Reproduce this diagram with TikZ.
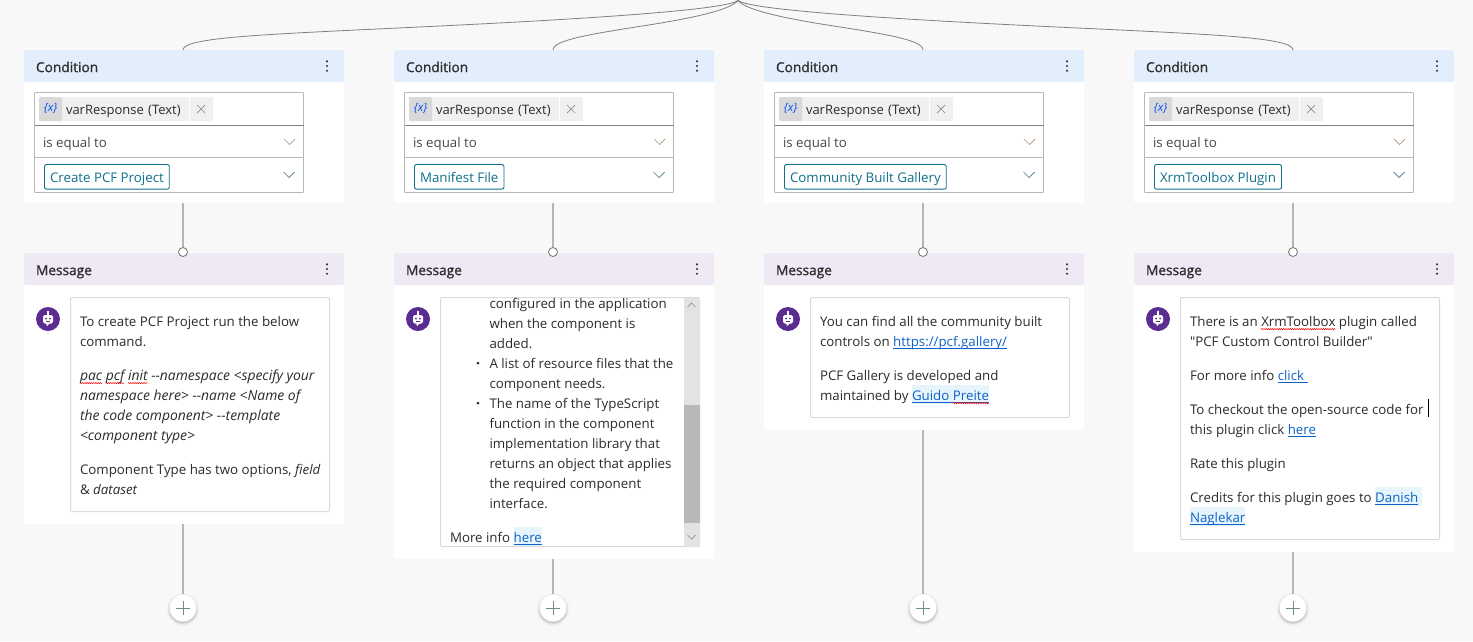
\documentclass[tikz,border=0pt]{standalone}
\usepackage{fontspec}
\setmainfont{Open Sans}
\newfontfamily\semib[FakeBold=1.1]{Open Sans}
\newfontfamily\rawf{Open Sans}
\usetikzlibrary{decorations.pathmorphing}
\definecolor{pagebg}{HTML}{F8F8F8}
\definecolor{condhd}{HTML}{E3EEFC}
\definecolor{msghd}{HTML}{EFE9F5}
\definecolor{txt}{HTML}{2B2B2B}
\definecolor{teal}{HTML}{0F6F8C}
\definecolor{linkc}{HTML}{0F62C9}
\definecolor{hlc}{HTML}{E6F4FC}
\definecolor{wire}{HTML}{B5B5B5}
\definecolor{botc}{HTML}{5C2D91}
\definecolor{bord}{HTML}{DADADA}
\definecolor{fbord}{HTML}{B8B8B8}
\definecolor{plusc}{HTML}{6F8F80}
\newcounter{tln}
\newbox\lbx
\newdimen\sqwd
\newcommand\lnk[1]{\leavevmode\begingroup\setbox\lbx\hbox{\color{linkc}#1}\rlap{\color{linkc}\rule[-2.2pt]{\wd\lbx}{.8pt}}\box\lbx\endgroup}
\newcommand\hlt[1]{\leavevmode\begingroup\setbox\lbx\hbox{#1}\rlap{\color{hlc}\rule[-3.5pt]{\wd\lbx}{18.5pt}}\box\lbx\endgroup}
\newcommand\sq[1]{\leavevmode\begingroup\setbox\lbx\hbox{#1}\sqwd=\wd\lbx\rlap{\tikz[overlay,x=1pt,y=1pt,baseline=0pt]\draw[red,line width=.45pt,decorate,decoration={zigzag,segment length=2.2pt,amplitude=.7pt}] (0,-3pt) -- (\sqwd,-3pt);}\box\lbx\endgroup}
\newcommand\itl{\fontsize{13.9}{15}\selectfont\itshape}
\tikzset{
  card/.style={rectangle,fill=white,rounded corners=1.5pt,inner sep=0,outer sep=0,anchor=north west,minimum width=320pt},
  head/.style={card,minimum height=32pt},
  formbox/.style={rectangle,draw=fbord,line width=.9pt,inner sep=0,outer sep=0,anchor=north west,minimum width=269pt,rounded corners=.8pt},
  msgbox/.style={rectangle,draw=bord,fill=white,line width=1pt,inner sep=0,outer sep=0,anchor=north west,minimum width=259pt,rounded corners=1pt},
  tx/.style={inner sep=0,outer sep=0,anchor=base west,text=txt,font=\fontsize{13.3}{15}\selectfont},
  title/.style={tx,text=black!82,font=\fontsize{13.7}{15}\selectfont\semib},
  wireln/.style={draw=wire,line width=1.7pt},
  fork/.style={draw=black!50,line width=.8pt},
  port/.style={circle,draw=black!55,fill=white,line width=.8pt,minimum size=9pt,inner sep=0},
  plusbtn/.style={circle,fill=white,minimum size=27pt,inner sep=0},
  chevron/.style={draw=black!40!brown!60,line width=.7pt},
  kdot/.style={circle,fill=black!80,minimum size=2.4pt,inner sep=0},
}
% one line of text: x, centre y, options, text
\newcommand\tl[4][]{\stepcounter{tln}\node[tx,#1] (t\arabic{tln}) at (#2,#3+5.1) {#4};}
\newcommand\kebab[2]{\foreach \dy in {-4.7,0,4.7}{\node[kdot] at (#1,#2+\dy) {};}}
\newcommand\condcard[3]{% n, x, value
  \def\cx{#2}
  \node[card,minimum height=153pt] (cond#1) at (\cx,50) {};
  \node[head,fill=condhd] (condh#1) at (\cx,50) {};
  \tl[title]{\cx+12}{67}{Condition}
  \kebab{\cx+303}{66}
  \node[formbox,minimum height=100pt] (form#1) at (\cx+10.5,92.5) {};
  \draw[black!50,line width=.9pt] (\cx+10.5,125.5) -- (\cx+279.5,125.5);
  \draw[fbord,line width=.9pt] (\cx+10.5,157.5) -- (\cx+279.5,157.5);
  \fill[black!6,rounded corners=1pt] (\cx+15,97) rectangle (\cx+189,121);
  \fill[black!15,rounded corners=1pt] (\cx+15,97) -- (\cx+38,97) -- (\cx+38,121) -- (\cx+15,121) -- cycle;
  \draw[white,line width=.7pt] (\cx+165,97) -- (\cx+165,121);
  \node[inner sep=0,text=blue!70!cyan,font=\fontsize{11.5}{13}\selectfont\itshape] (xi#1) at (\cx+26.7,108.5) {\{x\}};
  \tl[font=\fontsize{13}{15}\selectfont]{\cx+42}{109}{varResponse\hspace{1pt} (Text)}
  \draw[black!45,line width=.7pt] (\cx+173,105) -- (\cx+181,113) (\cx+181,105) -- (\cx+173,113);
  \tl[text=black!72]{\cx+19}{142}{is equal to}
  \draw[chevron] (\cx+260,139) -- (\cx+265.5,144.5) -- (\cx+271,139);
  \stepcounter{tln}
  \node[tx,anchor=base west,draw=teal,line width=.9pt,rounded corners=2pt,text=teal,inner xsep=5.5pt,inner ysep=0pt,text height=17.5pt,text depth=7.1pt,outer sep=0] (val#1) at (\cx+20.5,182) {#3};
  \draw[draw=teal!55!gray,line width=.7pt] (\cx+259.5,172) -- (\cx+265,177.5) -- (\cx+270.5,172);
}
\newcommand\msgcard[3]{% n, x, bottom
  \def\cx{#2}
  \pgfmathsetmacro\cardh{#3-253}
  \node[card,minimum height=\cardh pt] (msg#1) at (\cx,253) {};
  \node[head,fill=msghd] (msgh#1) at (\cx,253) {};
  \tl[title]{\cx+12}{270}{Message}
  \kebab{\cx+303}{269}
  \node[circle,fill=botc,minimum size=24pt,inner sep=0] (bot#1) at (\cx+24,319) {};
  \fill[white,rounded corners=1.6pt] (\cx+19,315) rectangle (\cx+29,323.5);
  \fill[white] (\cx+22,323) -- (\cx+26,323) -- (\cx+23,326) -- cycle;
  \fill[white] (\cx+23.4,311.5) rectangle (\cx+24.6,315);
  \fill[white] (\cx+24,311.5) circle (1pt);
  \fill[botc] (\cx+22,318.5) circle (1pt) (\cx+26,318.5) circle (1pt);
  \draw[botc,line width=.5pt] (\cx+22,321) -- (\cx+26,321);
}
\newcommand\wires[2]{% n, x of the wire
  \coordinate (in#1) at (#2,50);
  \foreach \rr/\sh in {16.5/2,15.5/5,14.5/11,13.8/18}{\fill[black!\sh!pagebg] (#2,609.5) circle (\rr pt);}
  \node[port] (port#1) at (#2,252) {};
  \node[plusbtn] (plus#1) at (#2,608) {};
  \draw[wireln] (cond#1.south -| port#1) -- (port#1.north);
  \draw[wireln] (msg#1.south -| plus#1) -- (plus#1.north);
  \draw[line width=1pt,draw=plusc] (#2-7,608) -- (#2+7,608) (#2,601) -- (#2,615);
}
\begin{document}
\begin{tikzpicture}[x=1pt,y=-1pt]
\fill[pagebg] (0,0) rectangle (1473,641);
\useasboundingbox (0,0) rectangle (1473,641);

\condcard{1}{24}{Create PCF Project}
\condcard{2}{394}{Manifest File}
\condcard{3}{764}{Community Built Gallery}
\condcard{4}{1134}{XrmToolbox Plugin}

\msgcard{1}{24}{524}
\msgcard{2}{394}{559}
\msgcard{3}{764}{430}
\msgcard{4}{1134}{552}

\wires{1}{183}
\wires{2}{553}
\wires{3}{923}
\wires{4}{1293}

\coordinate (top) at (738,0.5);
\draw[fork] (top) .. controls (728,8) and (640,16) .. (460,25) .. controls (280,34) and (183,36) .. (in1);
\draw[fork] (top) .. controls (731,9) and (700,17) .. (645.5,25.5) .. controls (591,34) and (553,40) .. (in2);
\draw[fork] (top) .. controls (745,9) and (776,17) .. (830.5,25.5) .. controls (885,34) and (923,40) .. (in3);
\draw[fork] (top) .. controls (748,8) and (836,16) .. (1016,25) .. controls (1196,34) and (1293,36) .. (in4);

% message 1
\node[msgbox,minimum height=214pt] (box1) at (70.5,297.5) {};
\tl{80}{321}{To create PCF Project run the below}
\tl{80}{341}{command.}
\tl{80}{375}{\itl\sq{pac} \sq{pcf} \sq{init} -{}-namespace <specify your}
\tl{80}{395}{\itl namespace here> -{}-name <Name of}
\tl{80}{415}{\itl the code component> -{}-template}
\tl{80}{435}{\itl <component type>}
\tl{80}{469}{Component Type has two options, \textit{field}}
\tl{80}{489}{\& \textit{dataset}}

% message 2
\node[msgbox,minimum height=249pt] (box2) at (440.5,297.5) {};
\fill[black!11] (683.5,298) rectangle (699.5,546.5);
\fill[black!28] (683.5,405) rectangle (699.5,523);
\draw[black!45,line width=.7pt] (687.5,307) -- (691.5,303) -- (695.5,307);
\draw[black!45,line width=.7pt] (687.5,535) -- (691.5,539) -- (695.5,535);
\tl{489.5}{303}{configured in the application}
\tl{489.5}{323}{when the component is}
\tl{489.5}{343}{added.}
\tl{489.5}{363}{A list of resource files that the}
\tl{489.5}{383}{component needs.}
\tl{489.5}{403}{The name of the TypeScript}
\tl{489.5}{423}{function in the component}
\tl{489.5}{443}{implementation library that}
\tl{489.5}{463}{returns an object that applies}
\tl{489.5}{483}{the required component}
\tl{489.5}{503}{interface.}
\fill[txt] (478,363) circle (1.5pt) (478,403) circle (1.5pt);
\tl{450}{537}{More info \hlt{\lnk{here}}}

% message 3
\node[msgbox,minimum height=120pt] (box3) at (810.5,297.5) {};
\tl{820}{321}{You can find all the community built}
\tl{820}{341}{controls on \lnk{https://pcf.gallery/}}
\tl{820}{375}{PCF Gallery is developed and}
\tl{820}{395}{maintained by \hlt{\lnk{Guido \sq{Preite}}}}

% message 4
\node[msgbox,minimum height=242pt] (box4) at (1180.5,297.5) {};
\tl{1190}{321}{There is an \sq{XrmToolbox} plugin called}
\tl{1190}{341}{{\rawf "}PCF Custom Control Builder{\rawf "}}
\tl{1190}{375}{For more info \lnk{click\ }}
\tl{1190}{409}{To checkout the open-source code for}
\tl{1190}{429}{this plugin click \lnk{here}}
\tl{1190}{463}{Rate this plugin}
\tl{1190}{497}{Credits for this plugin goes to \hlt{\lnk{Danish}\ }}
\tl{1190}{517}{\hlt{\lnk{Naglekar}}}
\draw[black,line width=.9pt] (1428.5,399) -- (1428.5,417);
\end{tikzpicture}
\end{document}
